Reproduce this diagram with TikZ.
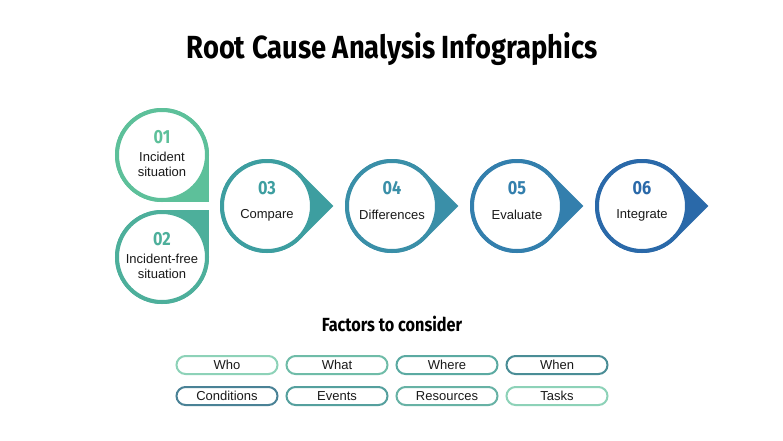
\documentclass[tikz,border=0pt]{standalone}
\usepackage{fontspec}
\setmainfont{Liberation Sans}
\newfontfamily\titlefont[FakeStretch=0.855]{Fira Sans}
\usepackage{xcolor}
\usepackage{tikz}
\usetikzlibrary{positioning}

\definecolor{txt}{HTML}{1A1A1A}
\definecolor{s1}{HTML}{5DC09A}
\definecolor{s2}{HTML}{4DAF9B}
\definecolor{s3}{HTML}{3D9EA0}
\definecolor{s4}{HTML}{3A8FA8}
\definecolor{s5}{HTML}{337FAD}
\definecolor{s6}{HTML}{2A69A9}
\definecolor{p1}{HTML}{8DD2B8}
\definecolor{p2}{HTML}{6FBCA8}
\definecolor{p3}{HTML}{5BAAA2}
\definecolor{p4}{HTML}{4A8D96}
\definecolor{p5}{HTML}{4A8296}
\definecolor{p6}{HTML}{55A09E}
\definecolor{p7}{HTML}{67B2A5}

\begin{document}
\begin{tikzpicture}[x=1pt, y=-1pt,
  stepring/.style={circle, draw=#1, fill=white, line width=4pt,
    minimum size=90pt, inner sep=0pt},
  stepnum/.style={font=\titlefont\bfseries\fontsize{19}{19}\selectfont, text=#1},
  steplbl/.style={font=\fontsize{13}{15}\selectfont, align=center, text=txt},
  pill/.style={draw=#1, rounded corners=9pt, line width=2pt,
    minimum width=101pt, minimum height=18pt, inner sep=0pt,
    font=\fontsize{13}{14}\selectfont, text=txt}]
  \useasboundingbox[fill=white] (0,0) rectangle (783,440);

  % Title
  \node[anchor=base, font=\titlefont\bfseries\fontsize{32}{32}\selectfont,
    text=black] (title) at (392,58) {Root Cause Analysis Infographics};

  % Steps
  \foreach \i/\cx/\cy/\ang/\num/\txt in {1/162/155/45/01/{Incident\\situation},
      2/162/257/-45/02/{Incident-free\\situation}, 3/267/206/0/03/Compare,
      4/392/206/0/04/Differences, 5/517/206/0/05/Evaluate,
      6/642/206/0/06/Integrate} {
    \fill[s\i] (\cx,\cy) circle[radius=47pt];
    \fill[s\i] (\cx,\cy) -- ++(\ang-45:47) -- ++(\ang+45:47)
      -- ++(\ang+135:47) -- cycle;
    \node[stepring=s\i] (ring\i) at (\cx,\cy) {};
    \node[stepnum=s\i] (num\i) at (\cx,\cy-18) {\num};
    \node[steplbl] (lbl\i) at (\cx,\cy+9) {\txt};
  }

  % Factors
  \node[anchor=base, font=\titlefont\bfseries\fontsize{19}{19}\selectfont,
    text=black] (factors) at (392,331) {Factors to consider};

  \foreach \j/\px/\py/\col/\txt in {1/227/365/p1/Who, 2/337/365/p2/What,
      3/447/365/p3/Where, 4/557/365/p4/When, 5/227/396/p5/Conditions,
      6/337/396/p6/Events, 7/447/396/p7/Resources, 8/557/396/p1/Tasks} {
    \node[pill=\col] (f\j) at (\px,\py) {\txt};
  }
\end{tikzpicture}
\end{document}
